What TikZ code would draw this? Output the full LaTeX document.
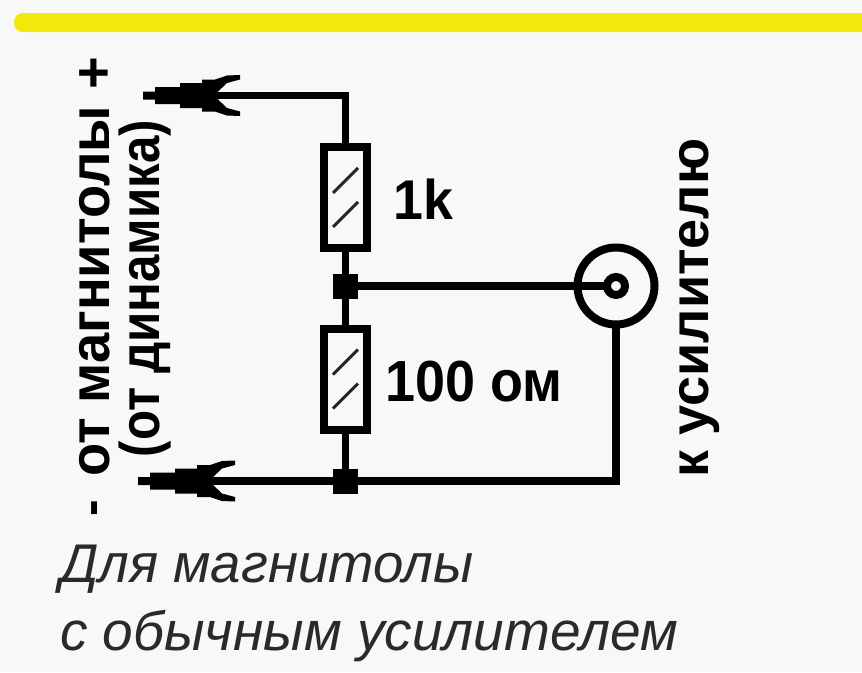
\documentclass[tikz,border=0pt]{standalone}
\usepackage{fontspec}
\setmainfont{Liberation Sans}
\usetikzlibrary{calc}
\definecolor{paper}{HTML}{F8F8F8}
\definecolor{barcol}{HTML}{F2E80A}
\definecolor{inkgray}{HTML}{2A2A2A}
\tikzset{%
  pics/plug/.style={code={%
      % body of the plug, tip at the origin
      \fill (0,-4) -- (12,-4) -- (12,-8.5) -- (37,-8.5) -- (37,-12.5) -- (59,-12.5)
        -- (59,-16) -- (72,-16) -- (84,-20) -- (97,-20.5) -- (97,-16) -- (84,-12.5)
        -- (74,-3) -- (74,3) -- (84,12.5) -- (97,16) -- (97,20.5) -- (84,20)
        -- (72,16) -- (59,16) -- (59,12.5) -- (37,12.5) -- (37,8.5) -- (12,8.5)
        -- (12,4) -- (0,4) -- cycle;
    }
  },
  wire/.style={line width=7.5pt},
  resistor/.style={draw, line width=8pt, fill=paper, outer sep=0pt, minimum width=43pt, minimum height=101pt, inner sep=0pt},
  slash/.style={line width=3pt, draw=black!85},
  junction/.style={fill, outer sep=0pt, minimum width=25pt, minimum height=25pt, inner sep=0pt},
  jack/.style={draw, circle, line width=8pt, outer sep=0pt, minimum size=77pt, inner sep=0pt},
  jackpin/.style={draw, circle, line width=8pt, fill=paper, minimum size=18pt, inner sep=0pt},
  vlabel/.style={rotate=90, anchor=base, inner sep=0pt},
  rlabel/.style={anchor=base west, inner sep=0pt},
  note/.style={text=inkgray, anchor=base west, inner sep=0pt},
}
\begin{document}
\begin{tikzpicture}[x=1pt,y=-1pt]
  \useasboundingbox (0,0) rectangle (862,672);
  \fill[paper] (0,0) rectangle (862,672);
  \fill[barcol, rounded corners=9pt] (14,13) rectangle (885,32);
  % circuit
  \coordinate (plugA) at (215,95.5);
  \coordinate (plugB) at (210,481);
  \node [resistor] (rA) at (345.5,197.5) {};
  \node [resistor] (rB) at (345.5,379) {};
  \node [junction] (jA) at (345.5,286) {};
  \node [junction] (jB) at (345.5,481) {};
  \node [jack] (out) at (616,286) {};
  \path (143,95.5) pic {plug};
  \path (138,481) pic {plug};
  \draw [wire] (plugA) -| (rA.north);
  \draw [wire] (rA) -- (jA);
  \draw [wire] (jA) -- (rB);
  \draw [wire] (rB) -- (jB);
  \draw [wire] (plugB) -- (jB);
  \draw [wire] (jB) -| (out);
  \draw [wire] (jA) -- (out.center);
  \node [jackpin] (pin) at (out.center) {};
  \foreach \res in {rA,rB} {
    \foreach \dy in {-17,17} {
      \draw [slash] ($(\res.center)+(-12.5,\dy+12.5)$) -- ($(\res.center)+(12.5,\dy-12.5)$);
    }
  }
  % labels
  \node [rlabel, xscale=.96, font=\bfseries\fontsize{56}{56}\selectfont] (lA) at (393,219) {1k};
  \node [rlabel, xscale=.93, font=\bfseries\fontsize{58}{58}\selectfont] (lB) at (385,401) {100 ом};
  \node [vlabel, xscale=.97, font=\bfseries\fontsize{56}{56}\selectfont] (from) at (109,291.5) {от магнитолы};
  \node [rotate=90, font=\bfseries\fontsize{56}{56}\selectfont, inner sep=0pt] (plus) at (96,73) {+};
  \node [rotate=90, font=\bfseries\fontsize{50}{50}\selectfont, inner sep=0pt] (minus) at (100,508) {-};
  \node [vlabel, xscale=.88, font=\bfseries\fontsize{56}{56}\selectfont] (spk) at (159,288.5) {(от динамика)};
  \node [vlabel, font=\bfseries\fontsize{54}{54}\selectfont] (amp) at (708,308) {к усилителю};
  \node [note, font=\itshape\fontsize{54.5}{55}\selectfont] (n1) at (60,582) {Для магнитолы};
  \node [note, font=\itshape\fontsize{55}{55}\selectfont] (n2) at (60,650) {с обычным усилителем};
\end{tikzpicture}
\end{document}
